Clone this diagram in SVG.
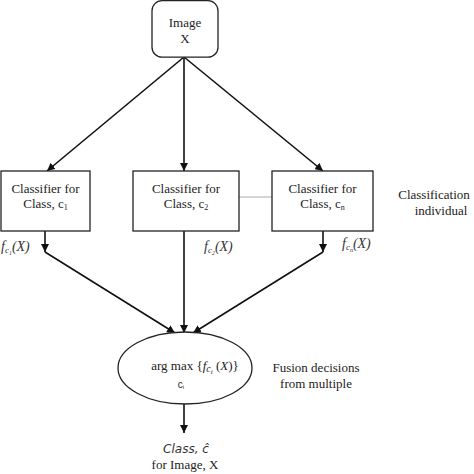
<svg xmlns="http://www.w3.org/2000/svg" width="474" height="474" viewBox="0 0 474 474">
<style>
.box{fill:#fff;stroke:#222;stroke-width:1.3}
.t{font-family:"Liberation Serif","Times New Roman",serif;font-size:13px;fill:#222;text-anchor:middle}
.m{font-family:"Liberation Serif","Times New Roman",serif;font-style:italic;font-size:14px;fill:#333}
.c{stroke:#111;stroke-width:1.6;fill:none}
.g{stroke:#aaa;stroke-width:1;fill:none}
</style>
<defs>
<marker id="ah" viewBox="0 0 10 10" refX="10" refY="5" markerWidth="8" markerHeight="8" markerUnits="userSpaceOnUse" orient="auto">
<path d="M0,0 L10,5 L0,10 z" fill="#111"/>
</marker>
</defs>
<rect width="474" height="474" fill="#fff"/>
<g id="connectors">
<line class="c" x1="184" y1="57" x2="47" y2="171" marker-end="url(#ah)"/>
<line class="c" x1="184" y1="57" x2="184" y2="171" marker-end="url(#ah)"/>
<line class="c" x1="184" y1="57" x2="323" y2="171" marker-end="url(#ah)"/>
<line class="c" x1="45" y1="231" x2="45" y2="252" marker-end="url(#ah)"/>
<line class="c" x1="45" y1="252" x2="175" y2="333" marker-end="url(#ah)"/>
<line class="c" x1="184" y1="231" x2="184" y2="333" marker-end="url(#ah)"/>
<line class="c" x1="323" y1="231" x2="323" y2="252" marker-end="url(#ah)"/>
<line class="c" x1="323" y1="252" x2="193" y2="333" marker-end="url(#ah)"/>
<line class="c" x1="184" y1="404" x2="184" y2="433" marker-end="url(#ah)"/>
<line class="g" x1="239" y1="197" x2="272" y2="197"/>
</g>
<g id="image">
<rect class="box" x="152" y="0.7" width="66" height="56.5" rx="10"/>
<text class="t" x="185" y="27">Image</text>
<text class="t" x="185" y="43">X</text>
</g>
<g id="clf1">
<rect class="box" x="1" y="171" width="89" height="60"/>
<text class="t" x="45.5" y="193">Classifier for</text>
<text class="t" x="45.5" y="208">Class, c<tspan font-size="8" dy="1.5">1</tspan></text>
</g>
<g id="clf2">
<rect class="box" x="133" y="171" width="106" height="60"/>
<text class="t" x="186" y="193">Classifier for</text>
<text class="t" x="186" y="208">Class, c<tspan font-size="8" dy="1.5">2</tspan></text>
</g>
<g id="clfn">
<rect class="box" x="272" y="171" width="101" height="60"/>
<text class="t" x="322.5" y="193">Classifier for</text>
<text class="t" x="322.5" y="208">Class, c<tspan font-size="8" dy="1.5">n</tspan></text>
</g>
<g id="labels">
<text class="m" x="1" y="251">f<tspan font-size="9" dy="2">c</tspan><tspan font-size="6" dy="1.5">1</tspan><tspan dy="-3.5">(X)</tspan></text>
<text class="m" x="204" y="251">f<tspan font-size="9" dy="2">c</tspan><tspan font-size="6" dy="1.5">2</tspan><tspan dy="-3.5">(X)</tspan></text>
<text class="m" x="342" y="248">f<tspan font-size="9" dy="2">c</tspan><tspan font-size="6" dy="1.5">n</tspan><tspan dy="-3.5">(X)</tspan></text>
<text class="t" x="434" y="199">Classification</text>
<text class="t" x="441" y="215">individual</text>
<text class="t" x="316" y="372">Fusion decisions</text>
<text class="t" x="316" y="388">from multiple</text>
</g>
<g id="fusion">
<ellipse class="box" cx="185" cy="368" rx="67" ry="36"/>
<text class="t" x="195" y="370" font-size="14.5">arg max {<tspan font-style="italic">f</tspan><tspan font-style="italic" font-size="10" dy="2">c</tspan><tspan font-style="italic" font-size="7" dy="1.5">i</tspan><tspan dy="-3.5"> (</tspan><tspan font-style="italic">X</tspan>)}</text>
<text x="181" y="388" style="font-family:'Liberation Sans',sans-serif;font-size:10px;fill:#222;text-anchor:middle">c<tspan font-size="6" dy="1">i</tspan></text>
</g>
<g id="result">
<text x="186" y="453" style="font-family:'DejaVu Sans',sans-serif;font-style:italic;font-size:12px;fill:#333;text-anchor:middle">Class, ĉ</text>
<text class="t" x="185" y="469">for Image, X</text>
</g>
</svg>
